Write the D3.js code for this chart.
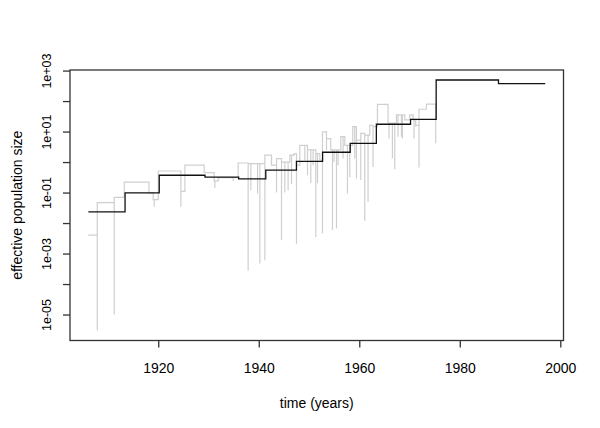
<!DOCTYPE html>
<html><head><meta charset="utf-8">
<script src="https://cdn.jsdelivr.net/npm/d3@7/dist/d3.min.js"></script>
<style>
body{margin:0;background:#fff}
svg{display:block}
text{font-family:"Liberation Sans",Arial,sans-serif;fill:#000}
</style>
</head><body><svg id="chart" width="600" height="428"></svg>
<script>
// ---- data ----
// black step line: change-point years and values, plus end year
const meanYears  = [1906.1, 1913.4, 1920.2, 1929.3, 1936.0, 1941.4, 1947.5, 1952.7, 1958.2, 1963.4, 1970.2, 1975.3, 1987.7];
const meanValues = [0.0234, 0.098, 0.37, 0.32, 0.28, 0.54, 1.05, 2.1, 4.1, 17.4, 25, 490, 372];
const meanEnd = 1997.0;

// grey step line: change-point years and values (repeated years are short spikes), plus end year
const sampleYears = [
 1906.08,1907.87,1907.87,1911.25,1911.25,1913.24,1918.15,1919.0,1919.2,1919.2,
 1920.0,1924.51,1924.51,1925.31,1929.15,1931.13,1931.27,1931.27,1931.93,1934.91,
 1934.91,1935.90,1937.89,1937.89,1938.43,1938.43,1939.76,1939.76,1940.22,1940.22,
 1941.21,1941.21,1942.54,1943.54,1943.54,1944.53,1944.53,1945.19,1945.19,1945.84,
 1945.84,1946.18,1946.52,1946.52,1947.04,1947.51,1947.51,1948.17,1949.17,1949.17,
 1949.70,1949.70,1950.36,1950.36,1950.82,1950.82,1951.35,1951.35,1951.69,1951.69,
 1952.15,1952.68,1952.68,1953.48,1953.48,1954.33,1954.67,1954.67,1954.99,1954.99,
 1955.47,1955.47,1955.79,1955.79,1956.32,1956.78,1956.78,1957.12,1957.65,1957.65,
 1958.11,1958.11,1958.71,1959.11,1959.11,1959.44,1959.44,1960.30,1960.30,1961.09,
 1961.09,1961.75,1961.75,1962.09,1962.74,1962.74,1963.62,1965.73,1965.92,1965.92,
 1966.60,1966.60,1967.06,1967.06,1967.40,1967.71,1967.71,1968.39,1968.39,1968.59,
 1968.59,1969.05,1970.04,1970.70,1970.90,1970.90,1971.23,1971.23,1971.89,1971.89,
 1973.36,1975.21,1975.21];
const sampleValues = [
 4.0e-3,3.0e-6,0.047,1.0e-5,0.069,0.22,0.098,0.059,0.035,0.059,
 0.51,0.034,0.11,0.79,0.45,0.24,0.14,0.24,0.31,0.24,
 0.31,0.93,2.8e-4,0.89,0.12,0.89,0.093,0.89,4.7e-4,0.89,
 6.0e-4,1.7,0.79,0.10,1.3,2.8e-3,1.0,0.10,1.0,0.12,
 1.0,1.7,0.19,1.7,1.9,2.1e-3,0.79,3.5,1.15,3.5,
 0.37,2.5,0.20,2.5,0.79,2.5,3.5e-3,1.9,0.20,1.9,
 1.15,4.6e-3,9.8,2.5,5.9,2.5,5.9e-3,2.5,1.0,2.5,
 6.6e-3,2.5,0.79,2.5,6.8,1.3,6.8,3.5,0.093,3.5,
 0.32,3.5,14.5,1.3,14.5,0.29,5.2,0.26,8.7,0.012,
 7.6,0.049,7.6,16,0.69,14.5,78,19,5.9,19,
 1.3,19,0.58,19,35,6.8,35,6.8,35,5.9,
 35,24,35,24,5.9,24,14.5,16,0.66,54,
 79,4.1,79];
const sampleEnd = 1975.3;

const xTicks = [1920, 1940, 1960, 1980, 2000];
const yTicks = [1e3, 1e2, 1e1, 1e0, 1e-1, 1e-2, 1e-3, 1e-4, 1e-5];
const yTickLabels = ["1e+03", "", "1e+01", "", "1e-01", "", "1e-03", "", "1e-05"];
const xTitle = "time (years)";
const yTitle = "effective population size";

// ---- layout ----
const W = 600, H = 428;
const plot = {left: 70, right: 563.5, top: 70, bottom: 340.5};
const svg = d3.select("#chart");
svg.append("rect").attr("width", W).attr("height", H).attr("fill", "#fff");

// R-style 4% padded extents
const allYears = meanYears.concat([meanEnd], sampleYears, [sampleEnd]);
const xe = d3.extent(allYears);
const xp = (xe[1] - xe[0]) * 0.04;
const x = d3.scaleLinear().domain([xe[0] - xp, xe[1] + xp]).range([plot.left, plot.right]);

const le = d3.extent(meanValues.concat(sampleValues).map(Math.log10));
const lp = (le[1] - le[0]) * 0.04;
const y = d3.scaleLog().domain([Math.pow(10, le[0] - lp), Math.pow(10, le[1] + lp)]).range([plot.bottom, plot.top]);

function stepPoints(years, values, end) {
  const pts = years.map((t, i) => [t, values[i]]);
  pts.push([end, values[values.length - 1]]);
  return pts;
}
const line = d3.line().x(d => x(d[0])).y(d => y(d[1])).curve(d3.curveStepAfter);

const g = svg.append("g");
g.append("path").datum(stepPoints(sampleYears, sampleValues, sampleEnd))
  .attr("d", line).attr("fill", "none").attr("stroke", "#cfcfcf").attr("stroke-width", 1.2);
g.append("path").datum(stepPoints(meanYears, meanValues, meanEnd))
  .attr("d", line).attr("fill", "none").attr("stroke", "#111").attr("stroke-width", 1.3);

// box
svg.append("rect").attr("x", plot.left).attr("y", plot.top)
  .attr("width", plot.right - plot.left).attr("height", plot.bottom - plot.top)
  .attr("fill", "none").attr("stroke", "#333").attr("stroke-width", 1.3);

const FONT = '"Liberation Sans",Arial,sans-serif';

// x axis
const xAxis = svg.append("g").attr("transform", `translate(0,${plot.bottom})`)
  .call(d3.axisBottom(x).tickValues(xTicks).tickFormat(d3.format("d")).tickSize(7).tickPadding(15.5));
xAxis.select(".domain").remove();
xAxis.selectAll(".tick line").attr("stroke", "#333").attr("stroke-width", 1.3);
xAxis.selectAll("text").attr("font-size", 14).attr("fill", "#000").style("font-family", FONT);

// y axis
const yAxis = svg.append("g").attr("transform", `translate(${plot.left},0)`)
  .call(d3.axisLeft(y).tickValues(yTicks).tickFormat((d, i) => yTickLabels[i]).tickSize(7));
yAxis.select(".domain").remove();
yAxis.selectAll(".tick line").attr("stroke", "#333").attr("stroke-width", 1.3);
yAxis.selectAll("text").attr("font-size", 12.5).attr("fill", "#000").style("font-family", FONT)
  .attr("transform", "rotate(-90)").attr("x", 0).attr("y", -19.5).attr("dy", 0)
  .attr("text-anchor", "middle");

// titles
svg.append("text").attr("x", (plot.left + plot.right) / 2).attr("y", 408)
  .attr("text-anchor", "middle").attr("font-size", 14).text(xTitle);
svg.append("text").attr("transform", `translate(22,${(plot.top + plot.bottom) / 2}) rotate(-90)`)
  .attr("text-anchor", "middle").attr("font-size", 14).text(yTitle);
</script>
</body></html>
